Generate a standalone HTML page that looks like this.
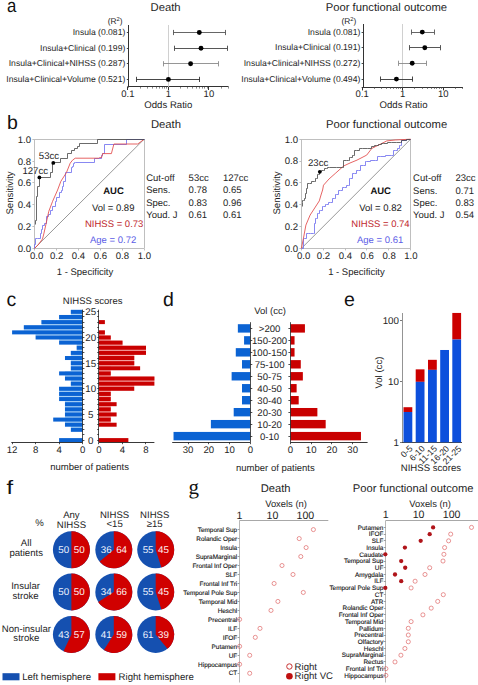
<!DOCTYPE html>
<html><head><meta charset="utf-8"><style>
html,body{margin:0;padding:0;background:#fff;}
svg{display:block;}
text{font-family:"Liberation Sans",sans-serif;text-rendering:geometricPrecision;}
</style></head><body>
<svg width="478" height="685" viewBox="0 0 478 685">
<rect width="478" height="685" fill="#fff"/>
<text transform="translate(6.9,12.1) scale(0.86,0.97)" font-size="19.5" fill="#111">a</text><text x="7.00" y="129.10" font-size="19.5" text-anchor="start" fill="#111" >b</text><text x="6.50" y="306.00" font-size="19.5" text-anchor="start" fill="#111" >c</text><text x="163.00" y="305.50" font-size="19.5" text-anchor="start" fill="#111" >d</text><text x="344.00" y="306.40" font-size="19.5" text-anchor="start" fill="#111" >e</text><text transform="translate(6.6,493.7) scale(1.22,1.0)" font-size="19.5" fill="#111">f</text><text x="188.6" y="493.6" font-size="21" style="font-family:&quot;Liberation Serif&quot;,serif" fill="#111">g</text><text x="165.60" y="10.90" font-size="11.25" text-anchor="middle" fill="#1e1e1e" >Death</text><text x="122.50" y="23.5" font-size="8.4" text-anchor="end" fill="#1e1e1e">(R<tspan font-size="5.8" dy="-3">2</tspan><tspan dy="3">)</tspan></text><text x="125.30" y="35.00" font-size="8.6" text-anchor="end" fill="#1e1e1e" >Insula (0.081)</text><line x1="126.80" y1="32.50" x2="129.00" y2="32.50" stroke="#333" stroke-width="0.9"/><text x="125.30" y="50.80" font-size="8.6" text-anchor="end" fill="#1e1e1e" >Insula+Clinical (0.199)</text><line x1="126.80" y1="48.50" x2="129.00" y2="48.50" stroke="#333" stroke-width="0.9"/><text x="125.30" y="66.30" font-size="8.6" text-anchor="end" fill="#1e1e1e" >Insula+Clinical+NIHSS (0.287)</text><line x1="126.80" y1="63.50" x2="129.00" y2="63.50" stroke="#333" stroke-width="0.9"/><text x="125.30" y="81.90" font-size="8.6" text-anchor="end" fill="#1e1e1e" >Insula+Clinical+Volume (0.521)</text><line x1="126.80" y1="79.50" x2="129.00" y2="79.50" stroke="#333" stroke-width="0.9"/><line x1="128.50" y1="25.00" x2="128.50" y2="87.50" stroke="#333" stroke-width="1"/><line x1="127.40" y1="86.50" x2="228.60" y2="86.50" stroke="#333" stroke-width="1"/><line x1="168.50" y1="25.00" x2="168.50" y2="87.00" stroke="#c4c4c4" stroke-width="0.8"/><line x1="127.50" y1="87.00" x2="127.50" y2="90.00" stroke="#333" stroke-width="1"/><text x="127.90" y="97.30" font-size="9.5" text-anchor="middle" fill="#1e1e1e" >0.1</text><line x1="168.50" y1="87.00" x2="168.50" y2="90.00" stroke="#333" stroke-width="1"/><text x="168.40" y="97.30" font-size="9.5" text-anchor="middle" fill="#1e1e1e" >1</text><line x1="208.50" y1="87.00" x2="208.50" y2="90.00" stroke="#333" stroke-width="1"/><text x="208.90" y="97.30" font-size="9.5" text-anchor="middle" fill="#1e1e1e" >10</text><line x1="140.50" y1="87.00" x2="140.50" y2="88.60" stroke="#555" stroke-width="0.7"/><line x1="147.50" y1="87.00" x2="147.50" y2="88.60" stroke="#555" stroke-width="0.7"/><line x1="152.50" y1="87.00" x2="152.50" y2="88.60" stroke="#555" stroke-width="0.7"/><line x1="156.50" y1="87.00" x2="156.50" y2="88.60" stroke="#555" stroke-width="0.7"/><line x1="159.50" y1="87.00" x2="159.50" y2="88.60" stroke="#555" stroke-width="0.7"/><line x1="162.50" y1="87.00" x2="162.50" y2="88.60" stroke="#555" stroke-width="0.7"/><line x1="164.50" y1="87.00" x2="164.50" y2="88.60" stroke="#555" stroke-width="0.7"/><line x1="166.50" y1="87.00" x2="166.50" y2="88.60" stroke="#555" stroke-width="0.7"/><line x1="180.50" y1="87.00" x2="180.50" y2="88.60" stroke="#555" stroke-width="0.7"/><line x1="187.50" y1="87.00" x2="187.50" y2="88.60" stroke="#555" stroke-width="0.7"/><line x1="192.50" y1="87.00" x2="192.50" y2="88.60" stroke="#555" stroke-width="0.7"/><line x1="196.50" y1="87.00" x2="196.50" y2="88.60" stroke="#555" stroke-width="0.7"/><line x1="199.50" y1="87.00" x2="199.50" y2="88.60" stroke="#555" stroke-width="0.7"/><line x1="202.50" y1="87.00" x2="202.50" y2="88.60" stroke="#555" stroke-width="0.7"/><line x1="204.50" y1="87.00" x2="204.50" y2="88.60" stroke="#555" stroke-width="0.7"/><line x1="207.50" y1="87.00" x2="207.50" y2="88.60" stroke="#555" stroke-width="0.7"/><line x1="221.50" y1="87.00" x2="221.50" y2="88.60" stroke="#555" stroke-width="0.7"/><line x1="228.50" y1="87.00" x2="228.50" y2="88.60" stroke="#555" stroke-width="0.7"/><text x="168.30" y="108.10" font-size="9.6" text-anchor="middle" fill="#1e1e1e" >Odds Ratio</text><line x1="173.30" y1="32.50" x2="225.60" y2="32.50" stroke="#555" stroke-width="0.9"/><line x1="173.50" y1="29.90" x2="173.50" y2="35.10" stroke="#555" stroke-width="0.9"/><line x1="225.50" y1="29.90" x2="225.50" y2="35.10" stroke="#555" stroke-width="0.9"/><circle cx="199.30" cy="32.50" r="2.45" fill="#000" stroke="none" stroke-width="1"/><line x1="174.50" y1="48.50" x2="227.40" y2="48.50" stroke="#444" stroke-width="0.9"/><line x1="174.50" y1="45.70" x2="174.50" y2="50.90" stroke="#444" stroke-width="0.9"/><line x1="227.50" y1="45.70" x2="227.50" y2="50.90" stroke="#444" stroke-width="0.9"/><circle cx="201.00" cy="48.30" r="2.45" fill="#000" stroke="none" stroke-width="1"/><line x1="163.30" y1="63.50" x2="218.30" y2="63.50" stroke="#8a8a8a" stroke-width="0.9"/><line x1="163.50" y1="61.20" x2="163.50" y2="66.40" stroke="#8a8a8a" stroke-width="0.9"/><line x1="218.50" y1="61.20" x2="218.50" y2="66.40" stroke="#8a8a8a" stroke-width="0.9"/><circle cx="190.60" cy="63.80" r="2.45" fill="#000" stroke="none" stroke-width="1"/><line x1="136.50" y1="79.50" x2="199.90" y2="79.50" stroke="#333" stroke-width="0.9"/><line x1="136.50" y1="76.80" x2="136.50" y2="82.00" stroke="#333" stroke-width="0.9"/><line x1="199.50" y1="76.80" x2="199.50" y2="82.00" stroke="#333" stroke-width="0.9"/><circle cx="168.40" cy="79.40" r="2.45" fill="#000" stroke="none" stroke-width="1"/><text x="386.40" y="10.90" font-size="11.25" text-anchor="middle" fill="#1e1e1e" >Poor functional outcome</text><text x="356.30" y="23.5" font-size="8.4" text-anchor="end" fill="#1e1e1e">(R<tspan font-size="5.8" dy="-3">2</tspan><tspan dy="3">)</tspan></text><text x="360.30" y="34.60" font-size="8.6" text-anchor="end" fill="#1e1e1e" >Insula (0.081)</text><line x1="361.60" y1="32.50" x2="363.80" y2="32.50" stroke="#333" stroke-width="0.9"/><text x="360.30" y="50.20" font-size="8.6" text-anchor="end" fill="#1e1e1e" >Insula+Clinical (0.191)</text><line x1="361.60" y1="47.50" x2="363.80" y2="47.50" stroke="#333" stroke-width="0.9"/><text x="360.30" y="65.80" font-size="8.6" text-anchor="end" fill="#1e1e1e" >Insula+Clinical+NIHSS (0.272)</text><line x1="361.60" y1="63.50" x2="363.80" y2="63.50" stroke="#333" stroke-width="0.9"/><text x="360.30" y="81.60" font-size="8.6" text-anchor="end" fill="#1e1e1e" >Insula+Clinical+Volume (0.494)</text><line x1="361.60" y1="79.50" x2="363.80" y2="79.50" stroke="#333" stroke-width="0.9"/><line x1="363.50" y1="24.00" x2="363.50" y2="87.90" stroke="#333" stroke-width="1"/><line x1="361.70" y1="87.50" x2="463.00" y2="87.50" stroke="#333" stroke-width="1"/><line x1="402.50" y1="24.00" x2="402.50" y2="87.40" stroke="#c4c4c4" stroke-width="0.8"/><line x1="362.50" y1="87.40" x2="362.50" y2="90.40" stroke="#333" stroke-width="1"/><text x="362.20" y="97.30" font-size="9.5" text-anchor="middle" fill="#1e1e1e" >0.1</text><line x1="402.50" y1="87.40" x2="402.50" y2="90.40" stroke="#333" stroke-width="1"/><text x="402.70" y="97.30" font-size="9.5" text-anchor="middle" fill="#1e1e1e" >1</text><line x1="443.50" y1="87.40" x2="443.50" y2="90.40" stroke="#333" stroke-width="1"/><text x="443.20" y="97.30" font-size="9.5" text-anchor="middle" fill="#1e1e1e" >10</text><line x1="374.50" y1="87.40" x2="374.50" y2="89.00" stroke="#555" stroke-width="0.7"/><line x1="381.50" y1="87.40" x2="381.50" y2="89.00" stroke="#555" stroke-width="0.7"/><line x1="386.50" y1="87.40" x2="386.50" y2="89.00" stroke="#555" stroke-width="0.7"/><line x1="390.50" y1="87.40" x2="390.50" y2="89.00" stroke="#555" stroke-width="0.7"/><line x1="393.50" y1="87.40" x2="393.50" y2="89.00" stroke="#555" stroke-width="0.7"/><line x1="396.50" y1="87.40" x2="396.50" y2="89.00" stroke="#555" stroke-width="0.7"/><line x1="398.50" y1="87.40" x2="398.50" y2="89.00" stroke="#555" stroke-width="0.7"/><line x1="400.50" y1="87.40" x2="400.50" y2="89.00" stroke="#555" stroke-width="0.7"/><line x1="414.50" y1="87.40" x2="414.50" y2="89.00" stroke="#555" stroke-width="0.7"/><line x1="422.50" y1="87.40" x2="422.50" y2="89.00" stroke="#555" stroke-width="0.7"/><line x1="427.50" y1="87.40" x2="427.50" y2="89.00" stroke="#555" stroke-width="0.7"/><line x1="431.50" y1="87.40" x2="431.50" y2="89.00" stroke="#555" stroke-width="0.7"/><line x1="434.50" y1="87.40" x2="434.50" y2="89.00" stroke="#555" stroke-width="0.7"/><line x1="436.50" y1="87.40" x2="436.50" y2="89.00" stroke="#555" stroke-width="0.7"/><line x1="439.50" y1="87.40" x2="439.50" y2="89.00" stroke="#555" stroke-width="0.7"/><line x1="441.50" y1="87.40" x2="441.50" y2="89.00" stroke="#555" stroke-width="0.7"/><line x1="455.50" y1="87.40" x2="455.50" y2="89.00" stroke="#555" stroke-width="0.7"/><line x1="462.50" y1="87.40" x2="462.50" y2="89.00" stroke="#555" stroke-width="0.7"/><text x="403.50" y="108.10" font-size="9.6" text-anchor="middle" fill="#1e1e1e" >Odds Ratio</text><line x1="411.50" y1="32.50" x2="434.00" y2="32.50" stroke="#555" stroke-width="0.9"/><line x1="411.50" y1="29.50" x2="411.50" y2="34.70" stroke="#555" stroke-width="0.9"/><line x1="434.50" y1="29.50" x2="434.50" y2="34.70" stroke="#555" stroke-width="0.9"/><circle cx="422.30" cy="32.10" r="2.45" fill="#000" stroke="none" stroke-width="1"/><line x1="409.70" y1="47.50" x2="440.40" y2="47.50" stroke="#444" stroke-width="0.9"/><line x1="409.50" y1="45.10" x2="409.50" y2="50.30" stroke="#444" stroke-width="0.9"/><line x1="440.50" y1="45.10" x2="440.50" y2="50.30" stroke="#444" stroke-width="0.9"/><circle cx="424.80" cy="47.70" r="2.45" fill="#000" stroke="none" stroke-width="1"/><line x1="398.90" y1="63.50" x2="426.60" y2="63.50" stroke="#8a8a8a" stroke-width="0.9"/><line x1="398.50" y1="60.70" x2="398.50" y2="65.90" stroke="#8a8a8a" stroke-width="0.9"/><line x1="426.50" y1="60.70" x2="426.50" y2="65.90" stroke="#8a8a8a" stroke-width="0.9"/><circle cx="412.20" cy="63.30" r="2.45" fill="#000" stroke="none" stroke-width="1"/><line x1="380.90" y1="79.50" x2="412.70" y2="79.50" stroke="#333" stroke-width="0.9"/><line x1="380.50" y1="76.50" x2="380.50" y2="81.70" stroke="#333" stroke-width="0.9"/><line x1="412.50" y1="76.50" x2="412.50" y2="81.70" stroke="#333" stroke-width="0.9"/><circle cx="396.40" cy="79.10" r="2.45" fill="#000" stroke="none" stroke-width="1"/><text x="166.00" y="128.10" font-size="11.25" text-anchor="middle" fill="#1e1e1e" >Death</text><line x1="34.40" y1="139.50" x2="144.00" y2="139.50" stroke="#b8b8b8" stroke-width="0.9"/><line x1="34.40" y1="248.50" x2="144.00" y2="248.50" stroke="#b8b8b8" stroke-width="0.9"/><line x1="34.50" y1="139.30" x2="34.50" y2="248.50" stroke="#b8b8b8" stroke-width="0.9"/><line x1="144.50" y1="139.30" x2="144.50" y2="248.50" stroke="#b8b8b8" stroke-width="0.9"/><line x1="34.40" y1="248.50" x2="144.00" y2="139.30" stroke="#8c8c8c" stroke-width="0.9"/><line x1="32.40" y1="248.50" x2="34.40" y2="248.50" stroke="#b8b8b8" stroke-width="0.9"/><line x1="34.50" y1="248.50" x2="34.50" y2="250.50" stroke="#b8b8b8" stroke-width="0.9"/><text x="31.00" y="251.90" font-size="9.6" text-anchor="end" fill="#1e1e1e" >0.0</text><text x="36.60" y="258.70" font-size="9.6" text-anchor="middle" fill="#1e1e1e" >0.0</text><line x1="32.40" y1="226.50" x2="34.40" y2="226.50" stroke="#b8b8b8" stroke-width="0.9"/><line x1="56.50" y1="248.50" x2="56.50" y2="250.50" stroke="#b8b8b8" stroke-width="0.9"/><text x="31.00" y="230.06" font-size="9.6" text-anchor="end" fill="#1e1e1e" >0.2</text><text x="56.62" y="258.70" font-size="9.6" text-anchor="middle" fill="#1e1e1e" >0.2</text><line x1="32.40" y1="204.50" x2="34.40" y2="204.50" stroke="#b8b8b8" stroke-width="0.9"/><line x1="78.50" y1="248.50" x2="78.50" y2="250.50" stroke="#b8b8b8" stroke-width="0.9"/><text x="31.00" y="208.22" font-size="9.6" text-anchor="end" fill="#1e1e1e" >0.4</text><text x="78.54" y="258.70" font-size="9.6" text-anchor="middle" fill="#1e1e1e" >0.4</text><line x1="32.40" y1="182.50" x2="34.40" y2="182.50" stroke="#b8b8b8" stroke-width="0.9"/><line x1="100.50" y1="248.50" x2="100.50" y2="250.50" stroke="#b8b8b8" stroke-width="0.9"/><text x="31.00" y="186.38" font-size="9.6" text-anchor="end" fill="#1e1e1e" >0.6</text><text x="100.46" y="258.70" font-size="9.6" text-anchor="middle" fill="#1e1e1e" >0.6</text><line x1="32.40" y1="161.50" x2="34.40" y2="161.50" stroke="#b8b8b8" stroke-width="0.9"/><line x1="122.50" y1="248.50" x2="122.50" y2="250.50" stroke="#b8b8b8" stroke-width="0.9"/><text x="31.00" y="164.54" font-size="9.6" text-anchor="end" fill="#1e1e1e" >0.8</text><text x="122.38" y="258.70" font-size="9.6" text-anchor="middle" fill="#1e1e1e" >0.8</text><line x1="32.40" y1="139.50" x2="34.40" y2="139.50" stroke="#b8b8b8" stroke-width="0.9"/><line x1="144.50" y1="248.50" x2="144.50" y2="250.50" stroke="#b8b8b8" stroke-width="0.9"/><text x="31.00" y="142.70" font-size="9.6" text-anchor="end" fill="#1e1e1e" >1.0</text><text x="144.30" y="258.70" font-size="9.6" text-anchor="middle" fill="#1e1e1e" >1.0</text><text transform="translate(12.80,193) rotate(-90)" font-size="9.6" text-anchor="middle" fill="#1e1e1e">Sensitivity</text><text x="85.00" y="274.70" font-size="9.5" text-anchor="middle" fill="#1e1e1e" >1 - Specificity</text><polyline points="34.50,248.50 34.50,244.50 35.50,244.50 35.50,238.50 37.50,238.50 37.50,238.50 40.50,238.50 40.50,233.50 41.50,233.50 41.50,229.50 42.50,229.50 42.50,225.50 44.50,225.50 44.50,223.50 46.50,223.50 46.50,216.50 48.50,216.50 48.50,214.50 50.50,214.50 50.50,210.50 52.50,210.50 52.50,206.50 55.50,206.50 55.50,201.50 56.50,201.50 56.50,197.50 59.50,197.50 59.50,192.50 61.50,192.50 61.50,190.50 62.50,190.50 62.50,186.50 63.50,186.50 63.50,181.50 65.50,181.50 65.50,172.50 66.50,172.50 66.50,172.50 71.50,172.50 71.50,167.50 72.50,167.50 72.50,166.50 73.50,166.50 73.50,163.50 74.50,163.50 74.50,162.50 75.50,162.50 94.50,162.50 94.50,158.50 101.50,158.50 101.50,155.50 102.50,155.50 102.50,153.50 104.50,153.50 104.50,144.50 126.50,144.50 126.50,139.50 144.50,139.50" fill="none" stroke="#7272f0" stroke-width="0.85" stroke-linejoin="miter" /><polyline points="34.40,248.50 38.00,245.00 42.50,239.00 43.80,233.90 46.00,224.00 48.80,211.30 52.60,201.30 57.60,190.00 60.80,181.40 66.40,172.70 70.20,163.20 72.50,160.20 75.20,158.20 98.80,158.20 99.60,157.60 101.60,157.60 102.60,153.60 111.40,153.60 113.90,144.00 137.70,144.00 144.00,139.40" fill="none" stroke="#e24848" stroke-width="0.85" stroke-linejoin="miter" /><polyline points="35.50,224.50 35.50,220.50 36.50,220.50 36.50,196.50 37.50,196.50 37.50,186.50 39.50,186.50 39.50,177.50 50.50,177.50 50.50,172.50 52.50,172.50 52.50,162.50 60.50,162.50 60.50,158.50 67.50,158.50 67.50,153.50 71.50,153.50 71.50,150.50 74.50,150.50 74.50,148.50 77.50,148.50 77.50,146.50 79.50,146.50 79.50,143.50 97.50,143.50 97.50,139.50 144.50,139.50" fill="none" stroke="#454545" stroke-width="0.8" stroke-linejoin="miter" /><circle cx="53.30" cy="162.90" r="1.9" fill="#000" stroke="none" stroke-width="1"/><text x="38.80" y="158.60" font-size="9.6" text-anchor="start" fill="#1e1e1e" >53cc</text><circle cx="39.40" cy="177.40" r="1.9" fill="#000" stroke="none" stroke-width="1"/><text x="22.40" y="174.40" font-size="9.6" text-anchor="start" fill="#1e1e1e" >127cc</text><text x="103.20" y="194.40" font-size="9.5" text-anchor="start" fill="#111" font-weight="bold">AUC</text><text x="91.90" y="210.70" font-size="9.5" text-anchor="start" fill="#1a1a1a" >Vol = 0.89</text><text x="85.00" y="227.40" font-size="9.5" text-anchor="start" fill="#c0282d" >NIHSS = 0.73</text><text x="90.00" y="243.30" font-size="9.5" text-anchor="start" fill="#5d5de6" >Age = 0.72</text><text x="146.20" y="180.90" font-size="9.5" text-anchor="start" fill="#1e1e1e" >Cut-off</text><text x="188.60" y="180.90" font-size="9.5" text-anchor="start" fill="#1e1e1e" >53cc</text><text x="223.00" y="180.90" font-size="9.5" text-anchor="start" fill="#1e1e1e" >127cc</text><text x="146.20" y="193.40" font-size="9.5" text-anchor="start" fill="#1e1e1e" >Sens.</text><text x="188.60" y="193.40" font-size="9.5" text-anchor="start" fill="#1e1e1e" >0.78</text><text x="223.00" y="193.40" font-size="9.5" text-anchor="start" fill="#1e1e1e" >0.65</text><text x="146.20" y="205.60" font-size="9.5" text-anchor="start" fill="#1e1e1e" >Spec.</text><text x="188.60" y="205.60" font-size="9.5" text-anchor="start" fill="#1e1e1e" >0.83</text><text x="223.00" y="205.60" font-size="9.5" text-anchor="start" fill="#1e1e1e" >0.96</text><text x="146.20" y="218.20" font-size="9.5" text-anchor="start" fill="#1e1e1e" >Youd. J</text><text x="188.60" y="218.20" font-size="9.5" text-anchor="start" fill="#1e1e1e" >0.61</text><text x="223.00" y="218.20" font-size="9.5" text-anchor="start" fill="#1e1e1e" >0.61</text><text x="386.60" y="128.10" font-size="11.25" text-anchor="middle" fill="#1e1e1e" >Poor functional outcome</text><line x1="301.40" y1="139.50" x2="410.60" y2="139.50" stroke="#b8b8b8" stroke-width="0.9"/><line x1="301.40" y1="248.50" x2="410.60" y2="248.50" stroke="#b8b8b8" stroke-width="0.9"/><line x1="301.50" y1="139.20" x2="301.50" y2="248.40" stroke="#b8b8b8" stroke-width="0.9"/><line x1="410.50" y1="139.20" x2="410.50" y2="248.40" stroke="#b8b8b8" stroke-width="0.9"/><line x1="301.40" y1="248.40" x2="410.60" y2="139.20" stroke="#8c8c8c" stroke-width="0.9"/><line x1="299.40" y1="248.50" x2="301.40" y2="248.50" stroke="#b8b8b8" stroke-width="0.9"/><line x1="301.50" y1="248.40" x2="301.50" y2="250.40" stroke="#b8b8b8" stroke-width="0.9"/><text x="298.00" y="251.80" font-size="9.6" text-anchor="end" fill="#1e1e1e" >0.0</text><text x="303.60" y="258.70" font-size="9.6" text-anchor="middle" fill="#1e1e1e" >0.0</text><line x1="299.40" y1="226.50" x2="301.40" y2="226.50" stroke="#b8b8b8" stroke-width="0.9"/><line x1="323.50" y1="248.40" x2="323.50" y2="250.40" stroke="#b8b8b8" stroke-width="0.9"/><text x="298.00" y="229.96" font-size="9.6" text-anchor="end" fill="#1e1e1e" >0.2</text><text x="323.54" y="258.70" font-size="9.6" text-anchor="middle" fill="#1e1e1e" >0.2</text><line x1="299.40" y1="204.50" x2="301.40" y2="204.50" stroke="#b8b8b8" stroke-width="0.9"/><line x1="345.50" y1="248.40" x2="345.50" y2="250.40" stroke="#b8b8b8" stroke-width="0.9"/><text x="298.00" y="208.12" font-size="9.6" text-anchor="end" fill="#1e1e1e" >0.4</text><text x="345.38" y="258.70" font-size="9.6" text-anchor="middle" fill="#1e1e1e" >0.4</text><line x1="299.40" y1="182.50" x2="301.40" y2="182.50" stroke="#b8b8b8" stroke-width="0.9"/><line x1="366.50" y1="248.40" x2="366.50" y2="250.40" stroke="#b8b8b8" stroke-width="0.9"/><text x="298.00" y="186.28" font-size="9.6" text-anchor="end" fill="#1e1e1e" >0.6</text><text x="367.22" y="258.70" font-size="9.6" text-anchor="middle" fill="#1e1e1e" >0.6</text><line x1="299.40" y1="161.50" x2="301.40" y2="161.50" stroke="#b8b8b8" stroke-width="0.9"/><line x1="388.50" y1="248.40" x2="388.50" y2="250.40" stroke="#b8b8b8" stroke-width="0.9"/><text x="298.00" y="164.44" font-size="9.6" text-anchor="end" fill="#1e1e1e" >0.8</text><text x="389.06" y="258.70" font-size="9.6" text-anchor="middle" fill="#1e1e1e" >0.8</text><line x1="299.40" y1="139.50" x2="301.40" y2="139.50" stroke="#b8b8b8" stroke-width="0.9"/><line x1="410.50" y1="248.40" x2="410.50" y2="250.40" stroke="#b8b8b8" stroke-width="0.9"/><text x="298.00" y="142.60" font-size="9.6" text-anchor="end" fill="#1e1e1e" >1.0</text><text x="410.90" y="258.70" font-size="9.6" text-anchor="middle" fill="#1e1e1e" >1.0</text><text transform="translate(280.20,193) rotate(-90)" font-size="9.6" text-anchor="middle" fill="#1e1e1e">Sensitivity</text><text x="356.40" y="274.70" font-size="9.5" text-anchor="middle" fill="#1e1e1e" >1 - Specificity</text><polyline points="301.50,248.50 303.50,248.50 303.50,238.50 304.50,238.50 306.50,238.50 306.50,233.50 308.50,233.50 310.50,233.50 310.50,233.50 313.50,233.50 314.50,233.50 314.50,223.50 315.50,223.50 315.50,223.50 315.50,218.50 316.50,218.50 317.50,218.50 317.50,213.50 318.50,213.50 319.50,213.50 319.50,210.50 320.50,210.50 322.50,210.50 322.50,206.50 323.50,206.50 325.50,206.50 325.50,204.50 326.50,204.50 328.50,204.50 328.50,202.50 330.50,202.50 332.50,202.50 332.50,198.50 334.50,198.50 335.50,198.50 335.50,194.50 336.50,194.50 338.50,194.50 338.50,190.50 340.50,190.50 342.50,190.50 342.50,187.50 344.50,187.50 346.50,187.50 346.50,185.50 348.50,185.50 349.50,185.50 349.50,178.50 350.50,178.50 352.50,178.50 352.50,173.50 354.50,173.50 356.50,173.50 356.50,170.50 358.50,170.50 360.50,170.50 360.50,165.50 363.50,165.50 365.50,165.50 365.50,161.50 366.50,161.50 370.50,161.50 370.50,160.50 375.50,160.50 377.50,160.50 377.50,156.50 380.50,156.50 385.50,156.50 385.50,155.50 391.50,155.50 393.50,155.50 393.50,150.50 395.50,150.50 397.50,150.50 397.50,148.50 399.50,148.50 399.50,148.50 399.50,145.50 400.50,145.50 401.50,145.50 401.50,140.50 401.50,140.50 406.50,140.50 406.50,139.50 410.50,139.50" fill="none" stroke="#7272f0" stroke-width="0.85" stroke-linejoin="miter" /><polyline points="301.40,248.40 303.40,238.50 305.90,225.10 310.10,215.10 319.30,200.90 321.00,195.00 322.60,190.00 323.50,185.20 329.00,179.00 335.20,173.50 343.60,166.00 350.00,163.00 357.00,160.10 366.70,155.10 371.80,148.40 378.50,145.10 386.80,140.90 395.20,140.00 410.60,139.20" fill="none" stroke="#e24848" stroke-width="0.85" stroke-linejoin="miter" /><polyline points="302.50,206.50 302.50,206.50 302.50,202.50 302.50,202.50 302.50,202.50 302.50,200.50 303.50,200.50 304.50,200.50 304.50,198.50 304.50,198.50 305.50,198.50 305.50,193.50 305.50,193.50 306.50,193.50 306.50,188.50 306.50,188.50 307.50,188.50 307.50,183.50 309.50,183.50 311.50,183.50 311.50,181.50 314.50,181.50 315.50,181.50 315.50,178.50 316.50,178.50 317.50,178.50 317.50,174.50 318.50,174.50 319.50,174.50 319.50,171.50 319.50,171.50 321.50,171.50 321.50,170.50 323.50,170.50 324.50,170.50 324.50,168.50 326.50,168.50 327.50,168.50 327.50,167.50 329.50,167.50 336.50,167.50 336.50,167.50 342.50,167.50 343.50,167.50 343.50,160.50 343.50,160.50 346.50,160.50 346.50,160.50 348.50,160.50 349.50,160.50 349.50,157.50 350.50,157.50 352.50,157.50 352.50,155.50 353.50,155.50 354.50,155.50 354.50,150.50 356.50,150.50 359.50,150.50 359.50,148.50 362.50,148.50 367.50,148.50 367.50,148.50 371.50,148.50 371.50,148.50 371.50,146.50 371.50,146.50 374.50,146.50 374.50,145.50 376.50,145.50 378.50,145.50 378.50,144.50 379.50,144.50 381.50,144.50 381.50,143.50 383.50,143.50 387.50,143.50 387.50,142.50 391.50,142.50 396.50,142.50 396.50,142.50 400.50,142.50 401.50,142.50 401.50,140.50 401.50,140.50 406.50,140.50 406.50,139.50 410.50,139.50" fill="none" stroke="#454545" stroke-width="0.8" stroke-linejoin="miter" /><circle cx="319.80" cy="171.80" r="1.9" fill="#000" stroke="none" stroke-width="1"/><text x="308.00" y="166.00" font-size="9.6" text-anchor="start" fill="#1e1e1e" >23cc</text><text x="370.40" y="194.40" font-size="9.5" text-anchor="start" fill="#111" font-weight="bold">AUC</text><text x="359.20" y="210.90" font-size="9.5" text-anchor="start" fill="#1a1a1a" >Vol = 0.82</text><text x="351.30" y="227.20" font-size="9.5" text-anchor="start" fill="#c0282d" >NIHSS = 0.74</text><text x="357.00" y="243.20" font-size="9.5" text-anchor="start" fill="#5d5de6" >Age = 0.61</text><text x="413.10" y="180.90" font-size="9.5" text-anchor="start" fill="#1e1e1e" >Cut-off</text><text x="455.50" y="180.90" font-size="9.5" text-anchor="start" fill="#1e1e1e" >23cc</text><text x="413.10" y="193.50" font-size="9.5" text-anchor="start" fill="#1e1e1e" >Sens.</text><text x="455.50" y="193.50" font-size="9.5" text-anchor="start" fill="#1e1e1e" >0.71</text><text x="413.10" y="205.70" font-size="9.5" text-anchor="start" fill="#1e1e1e" >Spec.</text><text x="455.50" y="205.70" font-size="9.5" text-anchor="start" fill="#1e1e1e" >0.83</text><text x="413.10" y="218.40" font-size="9.5" text-anchor="start" fill="#1e1e1e" >Youd. J</text><text x="455.50" y="218.40" font-size="9.5" text-anchor="start" fill="#1e1e1e" >0.54</text><rect x="70.85" y="422.71" width="11.75" height="5.33" fill="#a9d2f6"/><rect x="64.97" y="417.58" width="17.62" height="5.33" fill="#a9d2f6"/><rect x="99.00" y="417.58" width="11.75" height="5.33" fill="#f4a3a3"/><rect x="64.97" y="412.45" width="17.62" height="5.33" fill="#a9d2f6"/><rect x="99.00" y="412.45" width="11.75" height="5.33" fill="#f4a3a3"/><rect x="64.97" y="407.32" width="17.62" height="5.33" fill="#a9d2f6"/><rect x="99.00" y="407.32" width="11.75" height="5.33" fill="#f4a3a3"/><rect x="64.97" y="402.19" width="17.62" height="5.33" fill="#a9d2f6"/><rect x="99.00" y="402.19" width="11.75" height="5.33" fill="#f4a3a3"/><rect x="64.97" y="397.06" width="17.62" height="5.33" fill="#a9d2f6"/><rect x="99.00" y="397.06" width="11.75" height="5.33" fill="#f4a3a3"/><rect x="59.10" y="391.93" width="23.50" height="5.33" fill="#a9d2f6"/><rect x="99.00" y="391.93" width="11.75" height="5.33" fill="#f4a3a3"/><rect x="59.10" y="386.80" width="23.50" height="5.33" fill="#a9d2f6"/><rect x="99.00" y="386.80" width="11.75" height="5.33" fill="#f4a3a3"/><rect x="70.85" y="381.67" width="11.75" height="5.33" fill="#a9d2f6"/><rect x="99.00" y="381.67" width="35.25" height="5.33" fill="#f4a3a3"/><rect x="70.85" y="376.54" width="11.75" height="5.33" fill="#a9d2f6"/><rect x="99.00" y="376.54" width="55.40" height="5.33" fill="#f4a3a3"/><rect x="64.97" y="371.41" width="17.62" height="5.33" fill="#a9d2f6"/><rect x="99.00" y="371.41" width="11.75" height="5.33" fill="#f4a3a3"/><rect x="70.85" y="366.28" width="11.75" height="5.33" fill="#a9d2f6"/><rect x="99.00" y="366.28" width="11.75" height="5.33" fill="#f4a3a3"/><rect x="70.85" y="361.15" width="11.75" height="5.33" fill="#a9d2f6"/><rect x="99.00" y="361.15" width="35.25" height="5.33" fill="#f4a3a3"/><rect x="70.85" y="356.02" width="11.75" height="5.33" fill="#a9d2f6"/><rect x="99.00" y="356.02" width="35.25" height="5.33" fill="#f4a3a3"/><rect x="70.85" y="350.89" width="11.75" height="5.33" fill="#a9d2f6"/><rect x="99.00" y="350.89" width="35.25" height="5.33" fill="#f4a3a3"/><rect x="76.72" y="345.76" width="5.88" height="5.33" fill="#a9d2f6"/><rect x="99.00" y="345.76" width="47.00" height="5.33" fill="#f4a3a3"/><rect x="76.72" y="340.63" width="5.88" height="5.33" fill="#a9d2f6"/><rect x="99.00" y="340.63" width="23.50" height="5.33" fill="#f4a3a3"/><rect x="59.10" y="335.50" width="23.50" height="5.33" fill="#a9d2f6"/><rect x="99.00" y="335.50" width="11.75" height="5.33" fill="#f4a3a3"/><rect x="35.60" y="330.37" width="47.00" height="5.33" fill="#a9d2f6"/><rect x="99.00" y="330.37" width="5.88" height="5.33" fill="#f4a3a3"/><rect x="23.85" y="325.24" width="58.75" height="5.33" fill="#a9d2f6"/><rect x="41.47" y="320.11" width="41.12" height="5.33" fill="#a9d2f6"/><rect x="59.10" y="314.98" width="23.50" height="5.33" fill="#a9d2f6"/><rect x="70.85" y="309.85" width="11.75" height="5.33" fill="#a9d2f6"/><rect x="59.10" y="438.10" width="23.50" height="4.00" fill="#0b63d3"/><rect x="99.00" y="438.10" width="29.38" height="4.00" fill="#c90000"/><rect x="70.85" y="427.84" width="11.75" height="4.00" fill="#0b63d3"/><rect x="64.97" y="422.71" width="17.62" height="4.00" fill="#0b63d3"/><rect x="99.00" y="422.71" width="17.62" height="4.00" fill="#c90000"/><rect x="53.22" y="417.58" width="29.38" height="4.00" fill="#0b63d3"/><rect x="99.00" y="417.58" width="11.75" height="4.00" fill="#c90000"/><rect x="64.97" y="412.45" width="17.62" height="4.00" fill="#0b63d3"/><rect x="99.00" y="412.45" width="17.62" height="4.00" fill="#c90000"/><rect x="64.97" y="407.32" width="17.62" height="4.00" fill="#0b63d3"/><rect x="99.00" y="407.32" width="11.75" height="4.00" fill="#c90000"/><rect x="64.97" y="402.19" width="17.62" height="4.00" fill="#0b63d3"/><rect x="99.00" y="402.19" width="17.62" height="4.00" fill="#c90000"/><rect x="59.10" y="397.06" width="23.50" height="4.00" fill="#0b63d3"/><rect x="99.00" y="397.06" width="11.75" height="4.00" fill="#c90000"/><rect x="59.10" y="391.93" width="23.50" height="4.00" fill="#0b63d3"/><rect x="99.00" y="391.93" width="11.75" height="4.00" fill="#c90000"/><rect x="59.10" y="386.80" width="23.50" height="4.00" fill="#0b63d3"/><rect x="99.00" y="386.80" width="35.25" height="4.00" fill="#c90000"/><rect x="70.85" y="381.67" width="11.75" height="4.00" fill="#0b63d3"/><rect x="99.00" y="381.67" width="55.40" height="4.00" fill="#c90000"/><rect x="64.97" y="376.54" width="17.62" height="4.00" fill="#0b63d3"/><rect x="99.00" y="376.54" width="55.40" height="4.00" fill="#c90000"/><rect x="59.10" y="371.41" width="23.50" height="4.00" fill="#0b63d3"/><rect x="99.00" y="371.41" width="11.75" height="4.00" fill="#c90000"/><rect x="70.85" y="366.28" width="11.75" height="4.00" fill="#0b63d3"/><rect x="99.00" y="366.28" width="41.12" height="4.00" fill="#c90000"/><rect x="70.85" y="361.15" width="11.75" height="4.00" fill="#0b63d3"/><rect x="99.00" y="361.15" width="35.25" height="4.00" fill="#c90000"/><rect x="64.97" y="356.02" width="17.62" height="4.00" fill="#0b63d3"/><rect x="99.00" y="356.02" width="35.25" height="4.00" fill="#c90000"/><rect x="70.85" y="350.89" width="11.75" height="4.00" fill="#0b63d3"/><rect x="99.00" y="350.89" width="47.00" height="4.00" fill="#c90000"/><rect x="76.72" y="345.76" width="5.88" height="4.00" fill="#0b63d3"/><rect x="99.00" y="345.76" width="47.00" height="4.00" fill="#c90000"/><rect x="59.10" y="340.63" width="23.50" height="4.00" fill="#0b63d3"/><rect x="99.00" y="340.63" width="23.50" height="4.00" fill="#c90000"/><rect x="35.60" y="335.50" width="47.00" height="4.00" fill="#0b63d3"/><rect x="99.00" y="335.50" width="11.75" height="4.00" fill="#c90000"/><rect x="12.10" y="330.37" width="70.50" height="4.00" fill="#0b63d3"/><rect x="99.00" y="330.37" width="5.88" height="4.00" fill="#c90000"/><rect x="23.85" y="325.24" width="58.75" height="4.00" fill="#0b63d3"/><rect x="41.47" y="320.11" width="41.12" height="4.00" fill="#0b63d3"/><rect x="99.00" y="320.11" width="5.88" height="4.00" fill="#c90000"/><rect x="59.10" y="314.98" width="23.50" height="4.00" fill="#0b63d3"/><rect x="70.85" y="309.85" width="11.75" height="4.00" fill="#0b63d3"/><line x1="82.50" y1="309.65" x2="82.50" y2="442.20" stroke="#222" stroke-width="0.8"/><line x1="98.50" y1="309.65" x2="98.50" y2="442.20" stroke="#222" stroke-width="0.8"/><line x1="82.60" y1="440.50" x2="84.40" y2="440.50" stroke="#222" stroke-width="0.8"/><line x1="97.20" y1="440.50" x2="99.00" y2="440.50" stroke="#222" stroke-width="0.8"/><line x1="82.60" y1="434.50" x2="84.40" y2="434.50" stroke="#222" stroke-width="0.8"/><line x1="97.20" y1="434.50" x2="99.00" y2="434.50" stroke="#222" stroke-width="0.8"/><line x1="82.60" y1="429.50" x2="84.40" y2="429.50" stroke="#222" stroke-width="0.8"/><line x1="97.20" y1="429.50" x2="99.00" y2="429.50" stroke="#222" stroke-width="0.8"/><line x1="82.60" y1="424.50" x2="84.40" y2="424.50" stroke="#222" stroke-width="0.8"/><line x1="97.20" y1="424.50" x2="99.00" y2="424.50" stroke="#222" stroke-width="0.8"/><line x1="82.60" y1="419.50" x2="84.40" y2="419.50" stroke="#222" stroke-width="0.8"/><line x1="97.20" y1="419.50" x2="99.00" y2="419.50" stroke="#222" stroke-width="0.8"/><line x1="82.60" y1="414.50" x2="84.40" y2="414.50" stroke="#222" stroke-width="0.8"/><line x1="97.20" y1="414.50" x2="99.00" y2="414.50" stroke="#222" stroke-width="0.8"/><line x1="82.60" y1="409.50" x2="84.40" y2="409.50" stroke="#222" stroke-width="0.8"/><line x1="97.20" y1="409.50" x2="99.00" y2="409.50" stroke="#222" stroke-width="0.8"/><line x1="82.60" y1="404.50" x2="84.40" y2="404.50" stroke="#222" stroke-width="0.8"/><line x1="97.20" y1="404.50" x2="99.00" y2="404.50" stroke="#222" stroke-width="0.8"/><line x1="82.60" y1="399.50" x2="84.40" y2="399.50" stroke="#222" stroke-width="0.8"/><line x1="97.20" y1="399.50" x2="99.00" y2="399.50" stroke="#222" stroke-width="0.8"/><line x1="82.60" y1="393.50" x2="84.40" y2="393.50" stroke="#222" stroke-width="0.8"/><line x1="97.20" y1="393.50" x2="99.00" y2="393.50" stroke="#222" stroke-width="0.8"/><line x1="82.60" y1="388.50" x2="84.40" y2="388.50" stroke="#222" stroke-width="0.8"/><line x1="97.20" y1="388.50" x2="99.00" y2="388.50" stroke="#222" stroke-width="0.8"/><line x1="82.60" y1="383.50" x2="84.40" y2="383.50" stroke="#222" stroke-width="0.8"/><line x1="97.20" y1="383.50" x2="99.00" y2="383.50" stroke="#222" stroke-width="0.8"/><line x1="82.60" y1="378.50" x2="84.40" y2="378.50" stroke="#222" stroke-width="0.8"/><line x1="97.20" y1="378.50" x2="99.00" y2="378.50" stroke="#222" stroke-width="0.8"/><line x1="82.60" y1="373.50" x2="84.40" y2="373.50" stroke="#222" stroke-width="0.8"/><line x1="97.20" y1="373.50" x2="99.00" y2="373.50" stroke="#222" stroke-width="0.8"/><line x1="82.60" y1="368.50" x2="84.40" y2="368.50" stroke="#222" stroke-width="0.8"/><line x1="97.20" y1="368.50" x2="99.00" y2="368.50" stroke="#222" stroke-width="0.8"/><line x1="82.60" y1="363.50" x2="84.40" y2="363.50" stroke="#222" stroke-width="0.8"/><line x1="97.20" y1="363.50" x2="99.00" y2="363.50" stroke="#222" stroke-width="0.8"/><line x1="82.60" y1="358.50" x2="84.40" y2="358.50" stroke="#222" stroke-width="0.8"/><line x1="97.20" y1="358.50" x2="99.00" y2="358.50" stroke="#222" stroke-width="0.8"/><line x1="82.60" y1="352.50" x2="84.40" y2="352.50" stroke="#222" stroke-width="0.8"/><line x1="97.20" y1="352.50" x2="99.00" y2="352.50" stroke="#222" stroke-width="0.8"/><line x1="82.60" y1="347.50" x2="84.40" y2="347.50" stroke="#222" stroke-width="0.8"/><line x1="97.20" y1="347.50" x2="99.00" y2="347.50" stroke="#222" stroke-width="0.8"/><line x1="82.60" y1="342.50" x2="84.40" y2="342.50" stroke="#222" stroke-width="0.8"/><line x1="97.20" y1="342.50" x2="99.00" y2="342.50" stroke="#222" stroke-width="0.8"/><line x1="82.60" y1="337.50" x2="84.40" y2="337.50" stroke="#222" stroke-width="0.8"/><line x1="97.20" y1="337.50" x2="99.00" y2="337.50" stroke="#222" stroke-width="0.8"/><line x1="82.60" y1="332.50" x2="84.40" y2="332.50" stroke="#222" stroke-width="0.8"/><line x1="97.20" y1="332.50" x2="99.00" y2="332.50" stroke="#222" stroke-width="0.8"/><line x1="82.60" y1="327.50" x2="84.40" y2="327.50" stroke="#222" stroke-width="0.8"/><line x1="97.20" y1="327.50" x2="99.00" y2="327.50" stroke="#222" stroke-width="0.8"/><line x1="82.60" y1="322.50" x2="84.40" y2="322.50" stroke="#222" stroke-width="0.8"/><line x1="97.20" y1="322.50" x2="99.00" y2="322.50" stroke="#222" stroke-width="0.8"/><line x1="82.60" y1="316.50" x2="84.40" y2="316.50" stroke="#222" stroke-width="0.8"/><line x1="97.20" y1="316.50" x2="99.00" y2="316.50" stroke="#222" stroke-width="0.8"/><line x1="82.60" y1="311.50" x2="84.40" y2="311.50" stroke="#222" stroke-width="0.8"/><line x1="97.20" y1="311.50" x2="99.00" y2="311.50" stroke="#222" stroke-width="0.8"/><text x="90.70" y="443.60" font-size="9.8" text-anchor="middle" fill="#1e1e1e" >0</text><text x="90.70" y="417.95" font-size="9.8" text-anchor="middle" fill="#1e1e1e" >5</text><text x="90.70" y="392.30" font-size="9.8" text-anchor="middle" fill="#1e1e1e" >10</text><text x="90.70" y="366.65" font-size="9.8" text-anchor="middle" fill="#1e1e1e" >15</text><text x="90.70" y="341.00" font-size="9.8" text-anchor="middle" fill="#1e1e1e" >20</text><text x="90.70" y="315.35" font-size="9.8" text-anchor="middle" fill="#1e1e1e" >25</text><line x1="11.30" y1="442.50" x2="82.60" y2="442.50" stroke="#222" stroke-width="0.9"/><line x1="99.00" y1="442.50" x2="154.40" y2="442.50" stroke="#222" stroke-width="0.9"/><line x1="82.50" y1="442.20" x2="82.50" y2="444.20" stroke="#222" stroke-width="0.8"/><text x="82.60" y="452.60" font-size="9.6" text-anchor="middle" fill="#1e1e1e" >0</text><line x1="59.50" y1="442.20" x2="59.50" y2="444.20" stroke="#222" stroke-width="0.8"/><text x="59.10" y="452.60" font-size="9.6" text-anchor="middle" fill="#1e1e1e" >4</text><line x1="35.50" y1="442.20" x2="35.50" y2="444.20" stroke="#222" stroke-width="0.8"/><text x="35.60" y="452.60" font-size="9.6" text-anchor="middle" fill="#1e1e1e" >8</text><line x1="12.50" y1="442.20" x2="12.50" y2="444.20" stroke="#222" stroke-width="0.8"/><text x="12.10" y="452.60" font-size="9.6" text-anchor="middle" fill="#1e1e1e" >12</text><line x1="98.50" y1="442.20" x2="98.50" y2="444.20" stroke="#222" stroke-width="0.8"/><text x="99.00" y="452.60" font-size="9.6" text-anchor="middle" fill="#1e1e1e" >0</text><line x1="122.50" y1="442.20" x2="122.50" y2="444.20" stroke="#222" stroke-width="0.8"/><text x="122.40" y="452.60" font-size="9.6" text-anchor="middle" fill="#1e1e1e" >4</text><line x1="145.50" y1="442.20" x2="145.50" y2="444.20" stroke="#222" stroke-width="0.8"/><text x="145.80" y="452.60" font-size="9.6" text-anchor="middle" fill="#1e1e1e" >8</text><text x="92.60" y="304.10" font-size="9.5" text-anchor="middle" fill="#1e1e1e" >NIHSS scores</text><text x="89.60" y="470.20" font-size="9.5" text-anchor="middle" fill="#1e1e1e" >number of patients</text><rect x="237.85" y="324.20" width="12.45" height="8.40" fill="#0b63d3"/><rect x="290.40" y="324.20" width="14.53" height="8.40" fill="#c90000"/><line x1="250.30" y1="328.50" x2="252.30" y2="328.50" stroke="#222" stroke-width="0.8"/><line x1="288.40" y1="328.50" x2="290.40" y2="328.50" stroke="#222" stroke-width="0.8"/><text x="269.60" y="331.80" font-size="9.6" text-anchor="middle" fill="#1e1e1e" >&gt;200</text><rect x="244.08" y="336.17" width="6.23" height="8.40" fill="#0b63d3"/><rect x="290.40" y="336.17" width="4.15" height="8.40" fill="#c90000"/><line x1="250.30" y1="340.50" x2="252.30" y2="340.50" stroke="#222" stroke-width="0.8"/><line x1="288.40" y1="340.50" x2="290.40" y2="340.50" stroke="#222" stroke-width="0.8"/><text x="269.60" y="343.77" font-size="9.6" text-anchor="middle" fill="#1e1e1e" >150-200</text><rect x="235.78" y="348.14" width="14.53" height="8.40" fill="#0b63d3"/><rect x="290.40" y="348.14" width="4.15" height="8.40" fill="#c90000"/><line x1="250.30" y1="352.50" x2="252.30" y2="352.50" stroke="#222" stroke-width="0.8"/><line x1="288.40" y1="352.50" x2="290.40" y2="352.50" stroke="#222" stroke-width="0.8"/><text x="269.60" y="355.74" font-size="9.6" text-anchor="middle" fill="#1e1e1e" >100-150</text><rect x="242.00" y="360.11" width="8.30" height="8.40" fill="#0b63d3"/><rect x="290.40" y="360.11" width="10.38" height="8.40" fill="#c90000"/><line x1="250.30" y1="364.50" x2="252.30" y2="364.50" stroke="#222" stroke-width="0.8"/><line x1="288.40" y1="364.50" x2="290.40" y2="364.50" stroke="#222" stroke-width="0.8"/><text x="269.60" y="367.71" font-size="9.6" text-anchor="middle" fill="#1e1e1e" >75-100</text><rect x="231.62" y="372.08" width="18.68" height="8.40" fill="#0b63d3"/><rect x="290.40" y="372.08" width="12.45" height="8.40" fill="#c90000"/><line x1="250.30" y1="376.50" x2="252.30" y2="376.50" stroke="#222" stroke-width="0.8"/><line x1="288.40" y1="376.50" x2="290.40" y2="376.50" stroke="#222" stroke-width="0.8"/><text x="269.60" y="379.68" font-size="9.6" text-anchor="middle" fill="#1e1e1e" >50-75</text><rect x="242.00" y="384.05" width="8.30" height="8.40" fill="#0b63d3"/><rect x="290.40" y="384.05" width="6.23" height="8.40" fill="#c90000"/><line x1="250.30" y1="388.50" x2="252.30" y2="388.50" stroke="#222" stroke-width="0.8"/><line x1="288.40" y1="388.50" x2="290.40" y2="388.50" stroke="#222" stroke-width="0.8"/><text x="269.60" y="391.65" font-size="9.6" text-anchor="middle" fill="#1e1e1e" >40-50</text><rect x="242.00" y="396.02" width="8.30" height="8.40" fill="#0b63d3"/><rect x="290.40" y="396.02" width="8.30" height="8.40" fill="#c90000"/><line x1="250.30" y1="400.50" x2="252.30" y2="400.50" stroke="#222" stroke-width="0.8"/><line x1="288.40" y1="400.50" x2="290.40" y2="400.50" stroke="#222" stroke-width="0.8"/><text x="269.60" y="403.62" font-size="9.6" text-anchor="middle" fill="#1e1e1e" >30-40</text><rect x="233.70" y="407.99" width="16.60" height="8.40" fill="#0b63d3"/><rect x="290.40" y="407.99" width="26.98" height="8.40" fill="#c90000"/><line x1="250.30" y1="412.50" x2="252.30" y2="412.50" stroke="#222" stroke-width="0.8"/><line x1="288.40" y1="412.50" x2="290.40" y2="412.50" stroke="#222" stroke-width="0.8"/><text x="269.60" y="415.59" font-size="9.6" text-anchor="middle" fill="#1e1e1e" >20-30</text><rect x="210.88" y="419.96" width="39.43" height="8.40" fill="#0b63d3"/><rect x="290.40" y="419.96" width="35.28" height="8.40" fill="#c90000"/><line x1="250.30" y1="424.50" x2="252.30" y2="424.50" stroke="#222" stroke-width="0.8"/><line x1="288.40" y1="424.50" x2="290.40" y2="424.50" stroke="#222" stroke-width="0.8"/><text x="269.60" y="427.56" font-size="9.6" text-anchor="middle" fill="#1e1e1e" >10-20</text><rect x="173.53" y="431.93" width="76.78" height="8.40" fill="#0b63d3"/><rect x="290.40" y="431.93" width="70.55" height="8.40" fill="#c90000"/><line x1="250.30" y1="436.50" x2="252.30" y2="436.50" stroke="#222" stroke-width="0.8"/><line x1="288.40" y1="436.50" x2="290.40" y2="436.50" stroke="#222" stroke-width="0.8"/><text x="269.60" y="439.53" font-size="9.6" text-anchor="middle" fill="#1e1e1e" >0-10</text><line x1="250.50" y1="322.20" x2="250.50" y2="442.20" stroke="#222" stroke-width="0.8"/><line x1="290.50" y1="322.20" x2="290.50" y2="442.20" stroke="#222" stroke-width="0.8"/><line x1="172.20" y1="442.50" x2="250.30" y2="442.50" stroke="#222" stroke-width="0.9"/><line x1="290.40" y1="442.50" x2="367.60" y2="442.50" stroke="#222" stroke-width="0.9"/><line x1="250.50" y1="442.20" x2="250.50" y2="444.20" stroke="#222" stroke-width="0.8"/><text x="250.30" y="452.70" font-size="9.6" text-anchor="middle" fill="#1e1e1e" >0</text><line x1="290.50" y1="442.20" x2="290.50" y2="444.20" stroke="#222" stroke-width="0.8"/><text x="290.40" y="452.70" font-size="9.6" text-anchor="middle" fill="#1e1e1e" >0</text><line x1="229.50" y1="442.20" x2="229.50" y2="444.20" stroke="#222" stroke-width="0.8"/><text x="229.55" y="452.70" font-size="9.6" text-anchor="middle" fill="#1e1e1e" >10</text><line x1="311.50" y1="442.20" x2="311.50" y2="444.20" stroke="#222" stroke-width="0.8"/><text x="311.15" y="452.70" font-size="9.6" text-anchor="middle" fill="#1e1e1e" >10</text><line x1="208.50" y1="442.20" x2="208.50" y2="444.20" stroke="#222" stroke-width="0.8"/><text x="208.80" y="452.70" font-size="9.6" text-anchor="middle" fill="#1e1e1e" >20</text><line x1="331.50" y1="442.20" x2="331.50" y2="444.20" stroke="#222" stroke-width="0.8"/><text x="331.90" y="452.70" font-size="9.6" text-anchor="middle" fill="#1e1e1e" >20</text><line x1="188.50" y1="442.20" x2="188.50" y2="444.20" stroke="#222" stroke-width="0.8"/><text x="188.05" y="452.70" font-size="9.6" text-anchor="middle" fill="#1e1e1e" >30</text><line x1="352.50" y1="442.20" x2="352.50" y2="444.20" stroke="#222" stroke-width="0.8"/><text x="352.65" y="452.70" font-size="9.6" text-anchor="middle" fill="#1e1e1e" >30</text><text x="270.00" y="314.20" font-size="9.5" text-anchor="middle" fill="#1e1e1e" >Vol (cc)</text><text x="275.40" y="470.60" font-size="9.5" text-anchor="middle" fill="#1e1e1e" >number of patients</text><line x1="402.50" y1="313.00" x2="402.50" y2="442.30" stroke="#888" stroke-width="0.9"/><line x1="402.00" y1="442.50" x2="462.00" y2="442.50" stroke="#333" stroke-width="0.9"/><line x1="400.00" y1="442.50" x2="402.00" y2="442.50" stroke="#555" stroke-width="0.8"/><text x="399.00" y="445.80" font-size="9.8" text-anchor="end" fill="#1e1e1e" >1</text><line x1="400.00" y1="381.50" x2="402.00" y2="381.50" stroke="#555" stroke-width="0.8"/><text x="399.00" y="384.80" font-size="9.8" text-anchor="end" fill="#1e1e1e" >10</text><line x1="400.00" y1="320.50" x2="402.00" y2="320.50" stroke="#555" stroke-width="0.8"/><text x="399.00" y="323.80" font-size="9.8" text-anchor="end" fill="#1e1e1e" >100</text><rect x="403.50" y="407.21" width="8.80" height="4.77" fill="#cc0000"/><rect x="403.50" y="411.99" width="8.80" height="30.31" fill="#0d4fdc"/><text transform="translate(413.10,449.20) rotate(-45)" font-size="8.7" text-anchor="end" fill="#1e1e1e">0-5</text><rect x="415.70" y="369.35" width="8.80" height="12.49" fill="#cc0000"/><rect x="415.70" y="381.84" width="8.80" height="60.46" fill="#0d4fdc"/><text transform="translate(425.30,449.20) rotate(-45)" font-size="8.7" text-anchor="end" fill="#1e1e1e">6-10</text><rect x="428.00" y="359.82" width="8.80" height="10.04" fill="#cc0000"/><rect x="428.00" y="369.86" width="8.80" height="72.44" fill="#0d4fdc"/><text transform="translate(437.60,449.20) rotate(-45)" font-size="8.7" text-anchor="end" fill="#1e1e1e">11-15</text><rect x="440.20" y="349.99" width="8.80" height="92.31" fill="#0d4fdc"/><text transform="translate(449.80,449.20) rotate(-45)" font-size="8.7" text-anchor="end" fill="#1e1e1e">16-20</text><rect x="452.30" y="312.94" width="8.80" height="26.58" fill="#cc0000"/><rect x="452.30" y="339.52" width="8.80" height="102.78" fill="#0d4fdc"/><text transform="translate(461.90,449.20) rotate(-45)" font-size="8.7" text-anchor="end" fill="#1e1e1e">21-25</text><text transform="translate(382.4,372.6) rotate(-90)" font-size="9.6" text-anchor="middle" fill="#1e1e1e">Vol (cc)</text><text x="430.90" y="470.90" font-size="9.6" text-anchor="middle" fill="#1e1e1e" >NIHSS scores</text><circle cx="71.4" cy="549.8" r="18.5" fill="#1550b0"/><path d="M71.4,549.8 L71.4,531.3 A18.5,18.5 0 0 1 71.400,568.300 Z" fill="#d00000"/><text x="63.80" y="553.20" font-size="9.8" text-anchor="middle" fill="#eef3ff" >50</text><text x="79.20" y="553.20" font-size="9.8" text-anchor="middle" fill="#fff0f0" >50</text><circle cx="113.8" cy="549.8" r="18.5" fill="#1550b0"/><path d="M113.8,549.8 L113.8,531.3 A18.5,18.5 0 1 1 99.546,561.592 Z" fill="#d00000"/><text x="106.20" y="553.20" font-size="9.8" text-anchor="middle" fill="#eef3ff" >36</text><text x="121.60" y="553.20" font-size="9.8" text-anchor="middle" fill="#fff0f0" >64</text><circle cx="155.7" cy="549.8" r="18.5" fill="#1550b0"/><path d="M155.7,549.8 L155.7,531.3 A18.5,18.5 0 0 1 161.417,567.395 Z" fill="#d00000"/><text x="148.10" y="553.20" font-size="9.8" text-anchor="middle" fill="#eef3ff" >55</text><text x="163.50" y="553.20" font-size="9.8" text-anchor="middle" fill="#fff0f0" >45</text><circle cx="71.4" cy="592.0" r="18.5" fill="#1550b0"/><path d="M71.4,592.0 L71.4,573.5 A18.5,18.5 0 0 1 71.400,610.500 Z" fill="#d00000"/><text x="63.80" y="595.40" font-size="9.8" text-anchor="middle" fill="#eef3ff" >50</text><text x="79.20" y="595.40" font-size="9.8" text-anchor="middle" fill="#fff0f0" >50</text><circle cx="113.8" cy="592.0" r="18.5" fill="#1550b0"/><path d="M113.8,592.0 L113.8,573.5 A18.5,18.5 0 1 1 98.180,601.913 Z" fill="#d00000"/><text x="106.20" y="595.40" font-size="9.8" text-anchor="middle" fill="#eef3ff" >34</text><text x="121.60" y="595.40" font-size="9.8" text-anchor="middle" fill="#fff0f0" >66</text><circle cx="155.7" cy="592.0" r="18.5" fill="#1550b0"/><path d="M155.7,592.0 L155.7,573.5 A18.5,18.5 0 0 1 161.417,609.595 Z" fill="#d00000"/><text x="148.10" y="595.40" font-size="9.8" text-anchor="middle" fill="#eef3ff" >55</text><text x="163.50" y="595.40" font-size="9.8" text-anchor="middle" fill="#fff0f0" >45</text><circle cx="71.4" cy="634.5" r="18.5" fill="#1550b0"/><path d="M71.4,634.5 L71.4,616.0 A18.5,18.5 0 1 1 63.523,651.239 Z" fill="#d00000"/><text x="63.80" y="637.90" font-size="9.8" text-anchor="middle" fill="#eef3ff" >43</text><text x="79.20" y="637.90" font-size="9.8" text-anchor="middle" fill="#fff0f0" >57</text><circle cx="113.8" cy="634.5" r="18.5" fill="#1550b0"/><path d="M113.8,634.5 L113.8,616.0 A18.5,18.5 0 1 1 103.887,650.120 Z" fill="#d00000"/><text x="106.20" y="637.90" font-size="9.8" text-anchor="middle" fill="#eef3ff" >41</text><text x="121.60" y="637.90" font-size="9.8" text-anchor="middle" fill="#fff0f0" >59</text><circle cx="155.7" cy="634.5" r="18.5" fill="#1550b0"/><path d="M155.7,634.5 L155.7,616.0 A18.5,18.5 0 0 1 167.492,648.754 Z" fill="#d00000"/><text x="148.10" y="637.90" font-size="9.8" text-anchor="middle" fill="#eef3ff" >61</text><text x="163.50" y="637.90" font-size="9.8" text-anchor="middle" fill="#fff0f0" >39</text><text x="39.60" y="526.20" font-size="9.6" text-anchor="middle" fill="#1e1e1e" >%</text><text x="71.40" y="517.70" font-size="9.6" text-anchor="middle" fill="#1e1e1e" >Any</text><text x="71.40" y="527.50" font-size="9.6" text-anchor="middle" fill="#1e1e1e" >NIHSS</text><text x="114.60" y="517.70" font-size="9.6" text-anchor="middle" fill="#1e1e1e" >NIHSS</text><text x="114.60" y="527.40" font-size="9.6" text-anchor="middle" fill="#1e1e1e" >&lt;15</text><text x="154.70" y="517.70" font-size="9.6" text-anchor="middle" fill="#1e1e1e" >NIHSS</text><text x="154.70" y="527.40" font-size="9.6" text-anchor="middle" fill="#1e1e1e" >≥15</text><text x="26.20" y="546.40" font-size="9.6" text-anchor="middle" fill="#1e1e1e" >All</text><text x="26.20" y="555.50" font-size="9.6" text-anchor="middle" fill="#1e1e1e" >patients</text><text x="25.60" y="589.40" font-size="9.6" text-anchor="middle" fill="#1e1e1e" >Insular</text><text x="25.60" y="598.90" font-size="9.6" text-anchor="middle" fill="#1e1e1e" >stroke</text><text x="26.40" y="631.50" font-size="9.6" text-anchor="middle" fill="#1e1e1e" >Non-insular</text><text x="26.40" y="641.10" font-size="9.6" text-anchor="middle" fill="#1e1e1e" >stroke</text><rect x="2.50" y="673.20" width="17.00" height="7.10" fill="#1550b0"/><text x="22.20" y="679.90" font-size="9.6" text-anchor="start" fill="#1e1e1e" >Left hemisphere</text><rect x="98.40" y="673.20" width="17.00" height="7.10" fill="#cc0000"/><text x="118.60" y="679.90" font-size="9.6" text-anchor="start" fill="#1e1e1e" >Right hemisphere</text><text x="275.60" y="491.90" font-size="11.2" text-anchor="middle" fill="#1e1e1e" >Death</text><text x="286.00" y="507.00" font-size="9.4" text-anchor="middle" fill="#1e1e1e" >Voxels (n)</text><text x="239.40" y="519.30" font-size="10.6" text-anchor="middle" fill="#1e1e1e" >1</text><text x="272.40" y="519.30" font-size="10.6" text-anchor="middle" fill="#1e1e1e" >10</text><text x="305.40" y="519.30" font-size="10.6" text-anchor="middle" fill="#1e1e1e" >100</text><line x1="239.40" y1="520.50" x2="328.30" y2="520.50" stroke="#a8a8a8" stroke-width="1.0"/><line x1="239.50" y1="520.60" x2="239.50" y2="682.50" stroke="#b0b0b0" stroke-width="0.9"/><line x1="237.60" y1="529.50" x2="239.40" y2="529.50" stroke="#777" stroke-width="0.7"/><text x="237.20" y="531.80" font-size="6.4" text-anchor="end" fill="#111" stroke="#111" stroke-width="0.12">Temporal Sup</text><line x1="237.60" y1="538.50" x2="239.40" y2="538.50" stroke="#777" stroke-width="0.7"/><text x="237.20" y="540.78" font-size="6.4" text-anchor="end" fill="#111" stroke="#111" stroke-width="0.12">Rolandic Oper</text><line x1="237.60" y1="547.50" x2="239.40" y2="547.50" stroke="#777" stroke-width="0.7"/><text x="237.20" y="549.76" font-size="6.4" text-anchor="end" fill="#111" stroke="#111" stroke-width="0.12">Insula</text><line x1="237.60" y1="556.50" x2="239.40" y2="556.50" stroke="#777" stroke-width="0.7"/><text x="237.20" y="558.74" font-size="6.4" text-anchor="end" fill="#111" stroke="#111" stroke-width="0.12">SupraMarginal</text><line x1="237.60" y1="565.50" x2="239.40" y2="565.50" stroke="#777" stroke-width="0.7"/><text x="237.20" y="567.72" font-size="6.4" text-anchor="end" fill="#111" stroke="#111" stroke-width="0.12">Frontal Inf Oper</text><line x1="237.60" y1="574.50" x2="239.40" y2="574.50" stroke="#777" stroke-width="0.7"/><text x="237.20" y="576.70" font-size="6.4" text-anchor="end" fill="#111" stroke="#111" stroke-width="0.12">SLF</text><line x1="237.60" y1="583.50" x2="239.40" y2="583.50" stroke="#777" stroke-width="0.7"/><text x="237.20" y="585.68" font-size="6.4" text-anchor="end" fill="#111" stroke="#111" stroke-width="0.12">Frontal Inf Tri</text><line x1="237.60" y1="592.50" x2="239.40" y2="592.50" stroke="#777" stroke-width="0.7"/><text x="237.20" y="594.66" font-size="6.4" text-anchor="end" fill="#111" stroke="#111" stroke-width="0.12">Temporal Pole Sup</text><line x1="237.60" y1="601.50" x2="239.40" y2="601.50" stroke="#777" stroke-width="0.7"/><text x="237.20" y="603.64" font-size="6.4" text-anchor="end" fill="#111" stroke="#111" stroke-width="0.12">Temporal Mid</text><line x1="237.60" y1="610.50" x2="239.40" y2="610.50" stroke="#777" stroke-width="0.7"/><text x="237.20" y="612.62" font-size="6.4" text-anchor="end" fill="#111" stroke="#111" stroke-width="0.12">Heschl</text><line x1="237.60" y1="619.50" x2="239.40" y2="619.50" stroke="#777" stroke-width="0.7"/><text x="237.20" y="621.60" font-size="6.4" text-anchor="end" fill="#111" stroke="#111" stroke-width="0.12">Precentral</text><line x1="237.60" y1="628.50" x2="239.40" y2="628.50" stroke="#777" stroke-width="0.7"/><text x="237.20" y="630.58" font-size="6.4" text-anchor="end" fill="#111" stroke="#111" stroke-width="0.12">ILF</text><line x1="237.60" y1="637.50" x2="239.40" y2="637.50" stroke="#777" stroke-width="0.7"/><text x="237.20" y="639.56" font-size="6.4" text-anchor="end" fill="#111" stroke="#111" stroke-width="0.12">IFOF</text><line x1="237.60" y1="646.50" x2="239.40" y2="646.50" stroke="#777" stroke-width="0.7"/><text x="237.20" y="648.54" font-size="6.4" text-anchor="end" fill="#111" stroke="#111" stroke-width="0.12">Putamen</text><line x1="237.60" y1="655.50" x2="239.40" y2="655.50" stroke="#777" stroke-width="0.7"/><text x="237.20" y="657.52" font-size="6.4" text-anchor="end" fill="#111" stroke="#111" stroke-width="0.12">UF</text><line x1="237.60" y1="664.50" x2="239.40" y2="664.50" stroke="#777" stroke-width="0.7"/><text x="237.20" y="666.50" font-size="6.4" text-anchor="end" fill="#111" stroke="#111" stroke-width="0.12">Hippocampus</text><line x1="237.60" y1="673.50" x2="239.40" y2="673.50" stroke="#777" stroke-width="0.7"/><text x="237.20" y="675.48" font-size="6.4" text-anchor="end" fill="#111" stroke="#111" stroke-width="0.12">CT</text><circle cx="313.40" cy="529.60" r="2.05" fill="none" stroke="#d64040" stroke-width="0.55"/><circle cx="299.20" cy="538.58" r="2.05" fill="none" stroke="#d64040" stroke-width="0.55"/><circle cx="306.10" cy="547.56" r="2.05" fill="none" stroke="#d64040" stroke-width="0.55"/><circle cx="300.80" cy="556.54" r="2.05" fill="none" stroke="#d64040" stroke-width="0.55"/><circle cx="282.00" cy="565.52" r="2.05" fill="none" stroke="#d64040" stroke-width="0.55"/><circle cx="293.00" cy="574.50" r="2.05" fill="none" stroke="#d64040" stroke-width="0.55"/><circle cx="274.10" cy="583.48" r="2.05" fill="none" stroke="#d64040" stroke-width="0.55"/><circle cx="303.30" cy="592.46" r="2.05" fill="none" stroke="#d64040" stroke-width="0.55"/><circle cx="277.90" cy="601.44" r="2.05" fill="none" stroke="#d64040" stroke-width="0.55"/><circle cx="271.00" cy="610.42" r="2.05" fill="none" stroke="#d64040" stroke-width="0.55"/><circle cx="239.60" cy="619.40" r="2.05" fill="none" stroke="#d64040" stroke-width="0.55"/><circle cx="260.00" cy="628.38" r="2.05" fill="none" stroke="#d64040" stroke-width="0.55"/><circle cx="255.30" cy="637.36" r="2.05" fill="none" stroke="#d64040" stroke-width="0.55"/><circle cx="239.60" cy="646.34" r="2.05" fill="none" stroke="#d64040" stroke-width="0.55"/><circle cx="249.70" cy="655.32" r="2.05" fill="none" stroke="#d64040" stroke-width="0.55"/><circle cx="239.60" cy="664.30" r="2.05" fill="none" stroke="#d64040" stroke-width="0.55"/><circle cx="249.70" cy="673.28" r="2.05" fill="none" stroke="#d64040" stroke-width="0.55"/><text x="413.20" y="491.90" font-size="11.2" text-anchor="middle" fill="#1e1e1e" >Poor functional outcome</text><text x="430.10" y="507.00" font-size="9.4" text-anchor="middle" fill="#1e1e1e" >Voxels (n)</text><text x="385.60" y="518.40" font-size="10.6" text-anchor="middle" fill="#1e1e1e" >1</text><text x="418.60" y="518.40" font-size="10.6" text-anchor="middle" fill="#1e1e1e" >10</text><text x="451.60" y="518.40" font-size="10.6" text-anchor="middle" fill="#1e1e1e" >100</text><line x1="385.60" y1="520.50" x2="478.00" y2="520.50" stroke="#a8a8a8" stroke-width="1.0"/><line x1="385.50" y1="520.50" x2="385.50" y2="682.50" stroke="#b0b0b0" stroke-width="0.9"/><line x1="383.80" y1="527.50" x2="385.60" y2="527.50" stroke="#777" stroke-width="0.7"/><text x="383.40" y="529.60" font-size="6.4" text-anchor="end" fill="#111" stroke="#111" stroke-width="0.12">Putamen</text><line x1="383.80" y1="534.50" x2="385.60" y2="534.50" stroke="#777" stroke-width="0.7"/><text x="383.40" y="536.33" font-size="6.4" text-anchor="end" fill="#111" stroke="#111" stroke-width="0.12">IFOF</text><line x1="383.80" y1="540.50" x2="385.60" y2="540.50" stroke="#777" stroke-width="0.7"/><text x="383.40" y="543.05" font-size="6.4" text-anchor="end" fill="#111" stroke="#111" stroke-width="0.12">SLF</text><line x1="383.80" y1="547.50" x2="385.60" y2="547.50" stroke="#777" stroke-width="0.7"/><text x="383.40" y="549.78" font-size="6.4" text-anchor="end" fill="#111" stroke="#111" stroke-width="0.12">Insula</text><line x1="383.80" y1="554.50" x2="385.60" y2="554.50" stroke="#777" stroke-width="0.7"/><text x="383.40" y="556.51" font-size="6.4" text-anchor="end" fill="#111" stroke="#111" stroke-width="0.12">Caudate</text><line x1="383.80" y1="561.50" x2="385.60" y2="561.50" stroke="#777" stroke-width="0.7"/><text x="383.40" y="563.24" font-size="6.4" text-anchor="end" fill="#111" stroke="#111" stroke-width="0.12">Temporal Sup</text><line x1="383.80" y1="567.50" x2="385.60" y2="567.50" stroke="#777" stroke-width="0.7"/><text x="383.40" y="569.96" font-size="6.4" text-anchor="end" fill="#111" stroke="#111" stroke-width="0.12">UF</text><line x1="383.80" y1="574.50" x2="385.60" y2="574.50" stroke="#777" stroke-width="0.7"/><text x="383.40" y="576.69" font-size="6.4" text-anchor="end" fill="#111" stroke="#111" stroke-width="0.12">Amygdala</text><line x1="383.80" y1="581.50" x2="385.60" y2="581.50" stroke="#777" stroke-width="0.7"/><text x="383.40" y="583.42" font-size="6.4" text-anchor="end" fill="#111" stroke="#111" stroke-width="0.12">ILF</text><line x1="383.80" y1="587.50" x2="385.60" y2="587.50" stroke="#777" stroke-width="0.7"/><text x="383.40" y="590.14" font-size="6.4" text-anchor="end" fill="#111" stroke="#111" stroke-width="0.12">Temporal Pole Sup</text><line x1="383.80" y1="594.50" x2="385.60" y2="594.50" stroke="#777" stroke-width="0.7"/><text x="383.40" y="596.87" font-size="6.4" text-anchor="end" fill="#111" stroke="#111" stroke-width="0.12">CT</text><line x1="383.80" y1="601.50" x2="385.60" y2="601.50" stroke="#777" stroke-width="0.7"/><text x="383.40" y="603.60" font-size="6.4" text-anchor="end" fill="#111" stroke="#111" stroke-width="0.12">ATR</text><line x1="383.80" y1="608.50" x2="385.60" y2="608.50" stroke="#777" stroke-width="0.7"/><text x="383.40" y="610.32" font-size="6.4" text-anchor="end" fill="#111" stroke="#111" stroke-width="0.12">Rolandic Oper</text><line x1="383.80" y1="614.50" x2="385.60" y2="614.50" stroke="#777" stroke-width="0.7"/><text x="383.40" y="617.05" font-size="6.4" text-anchor="end" fill="#111" stroke="#111" stroke-width="0.12">Frontal Inf Oper</text><line x1="383.80" y1="621.50" x2="385.60" y2="621.50" stroke="#777" stroke-width="0.7"/><text x="383.40" y="623.78" font-size="6.4" text-anchor="end" fill="#111" stroke="#111" stroke-width="0.12">Temporal Mid</text><line x1="383.80" y1="628.50" x2="385.60" y2="628.50" stroke="#777" stroke-width="0.7"/><text x="383.40" y="630.50" font-size="6.4" text-anchor="end" fill="#111" stroke="#111" stroke-width="0.12">Pallidum</text><line x1="383.80" y1="635.50" x2="385.60" y2="635.50" stroke="#777" stroke-width="0.7"/><text x="383.40" y="637.23" font-size="6.4" text-anchor="end" fill="#111" stroke="#111" stroke-width="0.12">Precentral</text><line x1="383.80" y1="641.50" x2="385.60" y2="641.50" stroke="#777" stroke-width="0.7"/><text x="383.40" y="643.96" font-size="6.4" text-anchor="end" fill="#111" stroke="#111" stroke-width="0.12">Olfactory</text><line x1="383.80" y1="648.50" x2="385.60" y2="648.50" stroke="#777" stroke-width="0.7"/><text x="383.40" y="650.69" font-size="6.4" text-anchor="end" fill="#111" stroke="#111" stroke-width="0.12">Heschl</text><line x1="383.80" y1="655.50" x2="385.60" y2="655.50" stroke="#777" stroke-width="0.7"/><text x="383.40" y="657.41" font-size="6.4" text-anchor="end" fill="#111" stroke="#111" stroke-width="0.12">SupraMarginal</text><line x1="383.80" y1="661.50" x2="385.60" y2="661.50" stroke="#777" stroke-width="0.7"/><text x="383.40" y="664.14" font-size="6.4" text-anchor="end" fill="#111" stroke="#111" stroke-width="0.12">Rectus</text><line x1="383.80" y1="668.50" x2="385.60" y2="668.50" stroke="#777" stroke-width="0.7"/><text x="383.40" y="670.87" font-size="6.4" text-anchor="end" fill="#111" stroke="#111" stroke-width="0.12">Frontal Inf Tri</text><line x1="383.80" y1="675.50" x2="385.60" y2="675.50" stroke="#777" stroke-width="0.7"/><text x="383.40" y="677.59" font-size="6.4" text-anchor="end" fill="#111" stroke="#111" stroke-width="0.12">Hippocampus</text><circle cx="471.50" cy="527.40" r="2.05" fill="none" stroke="#d64040" stroke-width="0.55"/><circle cx="450.70" cy="534.13" r="2.05" fill="none" stroke="#d64040" stroke-width="0.55"/><circle cx="448.60" cy="540.85" r="2.05" fill="none" stroke="#d64040" stroke-width="0.55"/><circle cx="444.60" cy="547.58" r="2.05" fill="none" stroke="#d64040" stroke-width="0.55"/><circle cx="443.90" cy="554.31" r="2.05" fill="none" stroke="#d64040" stroke-width="0.55"/><circle cx="443.00" cy="561.03" r="2.05" fill="none" stroke="#d64040" stroke-width="0.55"/><circle cx="429.70" cy="567.76" r="2.05" fill="none" stroke="#d64040" stroke-width="0.55"/><circle cx="425.00" cy="574.49" r="2.05" fill="none" stroke="#d64040" stroke-width="0.55"/><circle cx="415.10" cy="581.22" r="2.05" fill="none" stroke="#d64040" stroke-width="0.55"/><circle cx="411.10" cy="587.94" r="2.05" fill="none" stroke="#d64040" stroke-width="0.55"/><circle cx="443.30" cy="594.67" r="2.05" fill="none" stroke="#d64040" stroke-width="0.55"/><circle cx="437.70" cy="601.40" r="2.05" fill="none" stroke="#d64040" stroke-width="0.55"/><circle cx="431.20" cy="608.12" r="2.05" fill="none" stroke="#d64040" stroke-width="0.55"/><circle cx="422.90" cy="614.85" r="2.05" fill="none" stroke="#d64040" stroke-width="0.55"/><circle cx="411.10" cy="621.58" r="2.05" fill="none" stroke="#d64040" stroke-width="0.55"/><circle cx="408.30" cy="628.30" r="2.05" fill="none" stroke="#d64040" stroke-width="0.55"/><circle cx="408.30" cy="635.03" r="2.05" fill="none" stroke="#d64040" stroke-width="0.55"/><circle cx="408.30" cy="641.76" r="2.05" fill="none" stroke="#d64040" stroke-width="0.55"/><circle cx="404.90" cy="648.49" r="2.05" fill="none" stroke="#d64040" stroke-width="0.55"/><circle cx="400.90" cy="655.21" r="2.05" fill="none" stroke="#d64040" stroke-width="0.55"/><circle cx="395.00" cy="661.94" r="2.05" fill="none" stroke="#d64040" stroke-width="0.55"/><circle cx="385.90" cy="668.67" r="2.05" fill="none" stroke="#d64040" stroke-width="0.55"/><circle cx="385.90" cy="675.39" r="2.05" fill="none" stroke="#d64040" stroke-width="0.55"/><circle cx="433.10" cy="527.40" r="2.15" fill="#b0141a" stroke="none" stroke-width="1"/><circle cx="429.70" cy="534.13" r="2.15" fill="#b0141a" stroke="none" stroke-width="1"/><circle cx="420.70" cy="540.85" r="2.15" fill="#b0141a" stroke="none" stroke-width="1"/><circle cx="404.90" cy="547.58" r="2.15" fill="#b0141a" stroke="none" stroke-width="1"/><circle cx="385.30" cy="554.31" r="2.15" fill="#b0141a" stroke="none" stroke-width="1"/><circle cx="401.20" cy="561.03" r="2.15" fill="#b0141a" stroke="none" stroke-width="1"/><circle cx="405.20" cy="567.76" r="2.15" fill="#b0141a" stroke="none" stroke-width="1"/><circle cx="395.00" cy="574.49" r="2.15" fill="#b0141a" stroke="none" stroke-width="1"/><circle cx="401.20" cy="581.22" r="2.15" fill="#b0141a" stroke="none" stroke-width="1"/><circle cx="385.30" cy="587.94" r="2.15" fill="#b0141a" stroke="none" stroke-width="1"/><circle cx="289.40" cy="666.50" r="2.7" fill="none" stroke="#c83232" stroke-width="1.0"/><text x="294.60" y="669.80" font-size="9.6" text-anchor="start" fill="#1e1e1e" >Right</text><circle cx="289.40" cy="676.20" r="3.3" fill="#c01010" stroke="none" stroke-width="1"/><text x="294.60" y="679.20" font-size="9.6" text-anchor="start" fill="#1e1e1e" >Right VC</text>
</svg></body></html>
